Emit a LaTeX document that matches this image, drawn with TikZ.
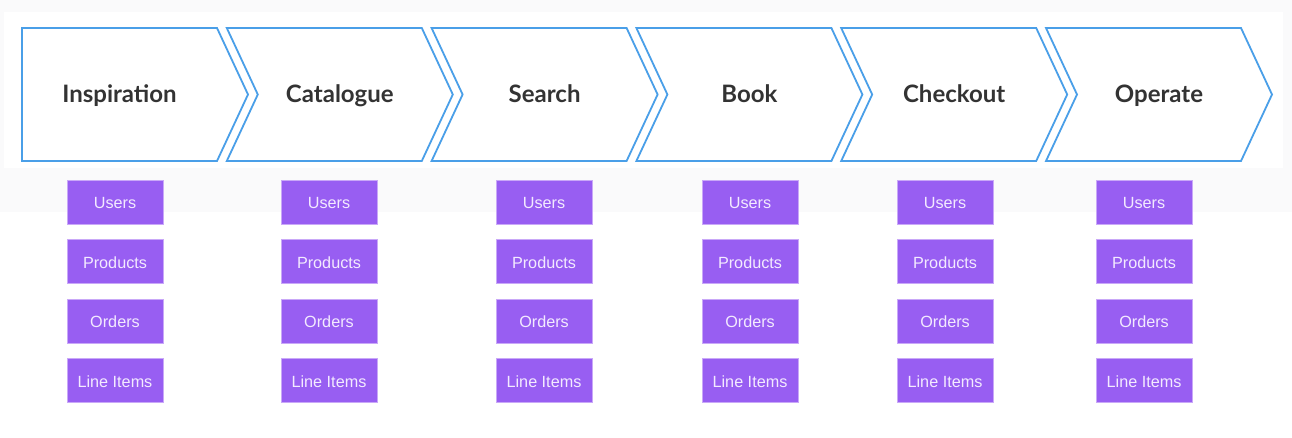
\documentclass[tikz,border=0pt]{standalone}
\usepackage{fontspec}
\setmainfont{Lato}
\newfontfamily\boxfont{Liberation Sans}
\definecolor{chevblue}{HTML}{4A9FE8}
\definecolor{boxfill}{HTML}{985EF2}
\definecolor{boxline}{HTML}{C9A8F8}
\definecolor{boxtext}{HTML}{F3EAFF}
\definecolor{labeltext}{HTML}{333333}
\definecolor{bgtint}{HTML}{FAFAFB}
\tikzset{
  chev/.style={draw=chevblue, line width=1.8pt, fill=white, line join=miter},
  chevlabel/.style={text=labeltext, font=\fontsize{24}{28}\selectfont\bfseries, inner sep=0pt, anchor=base},
  entity/.style={draw=boxline, line width=0.8pt, fill=boxfill, text=boxtext,
    minimum width=96pt, minimum height=44pt, inner sep=0pt,
    text height=15pt, text depth=1.5pt,
    font=\boxfont\fontsize{16.2}{19}\selectfont},
}
\begin{document}
\begin{tikzpicture}[x=1pt,y=-1pt]
\useasboundingbox (0,0) rectangle (1292,438);
\fill[white] (0,0) rectangle (1292,438);
\fill[bgtint] (0,0) rectangle (1292,212);
\fill[white] (4,12) rectangle (1283,168);
% chevrons
\foreach \i/\name/\txt in {0/inspiration/Inspiration,1/catalogue/Catalogue,2/search/Search,3/book/Book,4/checkout/Checkout,5/operate/Operate}{
  \pgfmathsetmacro{\xo}{22+204.8*\i}
  \ifnum\i=0
    \draw[chev] (\xo,28) -- (\xo+195,28) -- (\xo+226,94.5) -- (\xo+195,161) -- (\xo,161) -- cycle;
    \node[chevlabel] (\name) at (\xo+97.5,103) {\txt};
  \else
    \draw[chev] (\xo,28) -- (\xo+195,28) -- (\xo+226,94.5) -- (\xo+195,161) -- (\xo,161) -- (\xo+31,94.5) -- cycle;
    \node[chevlabel] (\name) at (\xo+113,103) {\txt};
  \fi
}
% entity boxes
\foreach \c/\xc in {1/115,2/329,3/544,4/750,5/945,6/1144}{
  \node[entity] (users\c) at (\xc,202) {Users};
  \node[entity] (products\c) at (\xc,261.5) {Products};
  \node[entity] (orders\c) at (\xc,321) {Orders};
  \node[entity] (lineitems\c) at (\xc,380.5) {Line Items};
}
\end{tikzpicture}
\end{document}
